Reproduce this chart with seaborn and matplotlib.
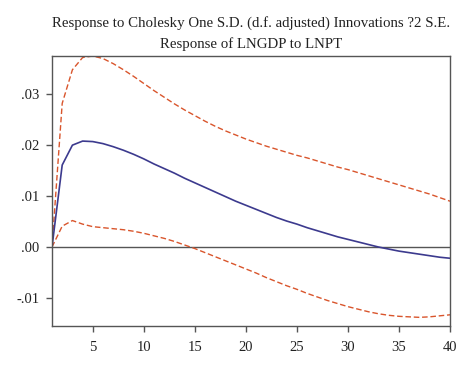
import numpy as np
import pandas as pd
import matplotlib
matplotlib.use('Agg')
import matplotlib.pyplot as plt
import seaborn as sns

# --- Dados
periodo = list(range(1, 41))

resposta = [0.0, 0.0161, 0.0200, 0.0208, 0.0207, 0.0203, 0.0197, 0.0190, 0.0182, 0.0173,
            0.0163, 0.0154, 0.0145, 0.0135, 0.0126, 0.0117, 0.0108, 0.0099, 0.0090, 0.0082,
            0.0074, 0.0066, 0.0058, 0.0051, 0.0045, 0.0038, 0.0032, 0.0026, 0.0020, 0.0015,
            0.0010, 0.0005, 0.0000, -0.0004, -0.0008, -0.0011, -0.0014, -0.0017, -0.0020, -0.0022]

limite_sup = [0.0, 0.0282, 0.0348, 0.0372, 0.0375, 0.0370, 0.0360, 0.0348, 0.0335, 0.0321,
              0.0307, 0.0294, 0.0281, 0.0269, 0.0258, 0.0247, 0.0237, 0.0228, 0.0220, 0.0212,
              0.0205, 0.0198, 0.0192, 0.0186, 0.0180, 0.0175, 0.0169, 0.0163, 0.0157, 0.0152,
              0.0146, 0.0140, 0.0134, 0.0128, 0.0122, 0.0116, 0.0110, 0.0104, 0.0097, 0.0090]

limite_inf = [0.0, 0.0041, 0.0052, 0.0045, 0.0040, 0.0038, 0.0036, 0.0034, 0.0031, 0.0027,
              0.0022, 0.0017, 0.0011, 0.0004, -0.0003, -0.0011, -0.0019, -0.0027, -0.0035, -0.0043,
              -0.0051, -0.0060, -0.0068, -0.0076, -0.0083, -0.0091, -0.0098, -0.0105, -0.0111, -0.0117,
              -0.0122, -0.0127, -0.0131, -0.0134, -0.0136, -0.0137, -0.0138, -0.0137, -0.0135, -0.0133]

x_ticks = [5, 10, 15, 20, 25, 30, 35, 40]
y_ticks = [-0.01, 0.0, 0.01, 0.02, 0.03]
y_labels = ['-.01', '.00', '.01', '.02', '.03']

dados = pd.DataFrame({
    'periodo': periodo,
    'resposta': resposta,
    'sup': limite_sup,
    'inf': limite_inf,
})

# --- Estilo
sns.set_style('white')
plt.rcParams['font.family'] = ['Liberation Serif', 'DejaVu Serif']

cinza = '#555555'
azul = '#3c3a8e'
laranja = '#d9552c'

fig = plt.figure(figsize=(4.74, 3.67), dpi=100)
ax = fig.add_axes([0.1097, 0.1117, 0.8397, 0.7357])

ax.axhline(0, color=cinza, lw=1.0, zorder=1)

sns.lineplot(data=dados, x='periodo', y='sup', ax=ax, color=laranja, lw=1.0,
             linestyle=(0, (4, 2)))
sns.lineplot(data=dados, x='periodo', y='inf', ax=ax, color=laranja, lw=1.0,
             linestyle=(0, (4, 2)))
sns.lineplot(data=dados, x='periodo', y='resposta', ax=ax, color=azul, lw=1.2)

ax.set_xlim(1, 40)
ax.set_ylim(-0.0155, 0.0375)
ax.set_xticks(x_ticks)
ax.set_yticks(y_ticks)
ax.set_yticklabels(y_labels)
ax.set_xlabel('')
ax.set_ylabel('')

for lado in ax.spines.values():
    lado.set_color(cinza)
    lado.set_linewidth(1.0)

ax.tick_params(axis='both', direction='out', length=4.5, width=1.0, color=cinza,
               labelsize=10.5, labelcolor='#222222')
ax.tick_params(axis='x', bottom=True, top=False, pad=6)
ax.tick_params(axis='y', left=True, right=False, pad=4.5)

# títulos centrados sobre a área do gráfico
fig.text(0.53, 0.937, 'Response to Cholesky One S.D. (d.f. adjusted) Innovations ?2 S.E.',
         ha='center', va='center', fontsize=10.7, color='#222222')
fig.text(0.53, 0.881, 'Response of LNGDP to LNPT',
         ha='center', va='center', fontsize=10.7, color='#222222')

fig.savefig('out.png', dpi=100)
